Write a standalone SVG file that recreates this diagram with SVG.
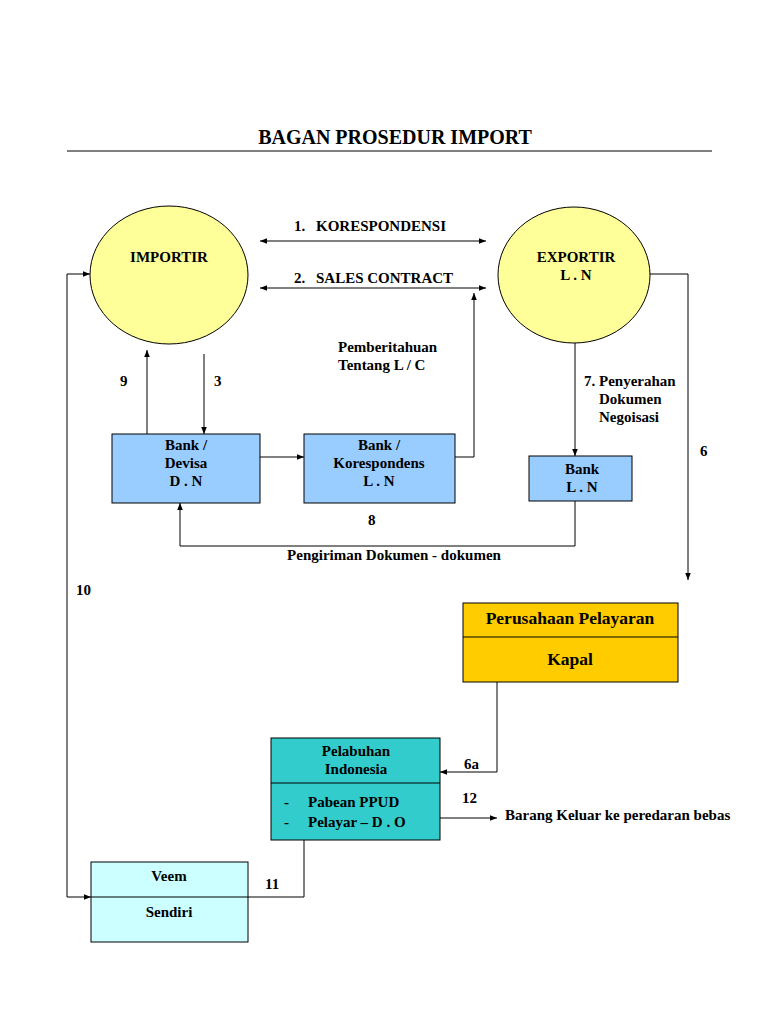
<svg xmlns="http://www.w3.org/2000/svg" width="768" height="1024" viewBox="0 0 768 1024">
<style>
text{font-family:"Liberation Serif","Times New Roman",serif;font-weight:bold;font-size:15px;fill:#000}
.c{text-anchor:middle}
.box{stroke:#000;stroke-width:1}
.ln{fill:none;stroke:#000;stroke-width:1}
</style>
<defs>
<marker id="ah" viewBox="0 0 10 10" refX="10" refY="5" markerWidth="7" markerHeight="7" orient="auto-start-reverse" markerUnits="userSpaceOnUse">
<path d="M0,1 L10,5 L0,9 z" fill="#000"/>
</marker>
</defs>
<rect width="768" height="1024" fill="#fff"/>
<text class="c" x="395" y="144" style="font-size:20px">BAGAN PROSEDUR IMPORT</text>
<line x1="67" y1="151" x2="712" y2="151" stroke="#000" stroke-width="1.2"/>

<g id="connectors">
<line class="ln" x1="260" y1="241" x2="486" y2="241" marker-start="url(#ah)" marker-end="url(#ah)"/>
<line class="ln" x1="260" y1="288" x2="486" y2="288" marker-start="url(#ah)" marker-end="url(#ah)"/>
<polyline class="ln" points="455,457 474,457 474,293" marker-end="url(#ah)"/>
<line class="ln" x1="147" y1="434" x2="147" y2="350" marker-end="url(#ah)"/>
<line class="ln" x1="204" y1="354" x2="204" y2="434" marker-end="url(#ah)"/>
<line class="ln" x1="260" y1="457" x2="304" y2="457" marker-end="url(#ah)"/>
<line class="ln" x1="575" y1="343" x2="575" y2="456" marker-end="url(#ah)"/>
<polyline class="ln" points="575,501 575,546 180,546 180,503" marker-end="url(#ah)"/>
<polyline class="ln" points="650,274 688,274 688,580" marker-end="url(#ah)"/>
<polyline class="ln" points="90,274 67,274 67,897 91,897" marker-start="url(#ah)" marker-end="url(#ah)"/>
<polyline class="ln" points="497,682 497,772 440,772" marker-end="url(#ah)"/>
<line class="ln" x1="440" y1="818" x2="497" y2="818" marker-end="url(#ah)"/>
<polyline class="ln" points="304,840 304,897 248,897"/>
<text x="294" y="231">1.</text><text x="316" y="231">KORESPONDENSI</text>
<text x="294" y="283">2.</text><text x="316" y="283">SALES CONTRACT</text>
<text x="338" y="352">Pemberitahuan</text>
<text x="338" y="370">Tentang L / C</text>
<text x="120" y="386">9</text>
<text x="214" y="386">3</text>
<text x="584" y="386">7. Penyerahan</text>
<text x="599" y="404">Dokumen</text>
<text x="599" y="422">Negoisasi</text>
<text x="700" y="456">6</text>
<text x="368" y="525">8</text>
<text class="c" x="394" y="560">Pengiriman Dokumen - dokumen</text>
<text x="76" y="595">10</text>
<text x="464" y="769">6a</text>
<text x="462" y="803">12</text>
<text x="505" y="820">Barang Keluar ke peredaran bebas</text>
<text x="265" y="889">11</text>
</g>

<g id="importir">
<ellipse cx="169" cy="275" rx="79" ry="69" fill="#FFFF99" stroke="#000"/>
<text class="c" x="169" y="262">IMPORTIR</text>
</g>
<g id="exportir">
<ellipse cx="574" cy="275" rx="76" ry="68" fill="#FFFF99" stroke="#000"/>
<text class="c" x="576" y="262">EXPORTIR</text>
<text class="c" x="576" y="280">L . N</text>
</g>
<g id="bank-devisa">
<rect class="box" x="112" y="434" width="148" height="69" fill="#99CCFF"/>
<text class="c" x="186" y="450">Bank /</text>
<text class="c" x="186" y="468">Devisa</text>
<text class="c" x="186" y="486">D . N</text>
</g>
<g id="bank-korespondens">
<rect class="box" x="304" y="434" width="151" height="69" fill="#99CCFF"/>
<text class="c" x="379" y="450">Bank /</text>
<text class="c" x="379" y="468">Korespondens</text>
<text class="c" x="379" y="486">L . N</text>
</g>
<g id="bank-ln">
<rect class="box" x="529" y="456" width="103" height="45" fill="#99CCFF"/>
<text class="c" x="582" y="474">Bank</text>
<text class="c" x="582" y="492">L . N</text>
</g>
<g id="perusahaan-pelayaran">
<rect class="box" x="463" y="603" width="215" height="79" fill="#FFCC00"/>
<line x1="463" y1="637" x2="678" y2="637" stroke="#000"/>
<text class="c" x="570" y="624" style="font-size:17.5px">Perusahaan Pelayaran</text>
<text class="c" x="570" y="665" style="font-size:17.5px">Kapal</text>
</g>
<g id="pelabuhan">
<rect class="box" x="271" y="738" width="169" height="102" fill="#33CCCC"/>
<line x1="271" y1="783" x2="440" y2="783" stroke="#000"/>
<text class="c" x="356" y="756">Pelabuhan</text>
<text class="c" x="356" y="774">Indonesia</text>
<text x="284" y="807">-</text><text x="308" y="807">Pabean PPUD</text>
<text x="284" y="827">-</text><text x="308" y="827">Pelayar – D . O</text>
</g>
<g id="veem">
<rect class="box" x="91" y="862" width="157" height="80" fill="#CCFFFF"/>
<line x1="91" y1="897" x2="248" y2="897" stroke="#000"/>
<text class="c" x="169" y="881">Veem</text>
<text class="c" x="169" y="917">Sendiri</text>
</g>
</svg>
